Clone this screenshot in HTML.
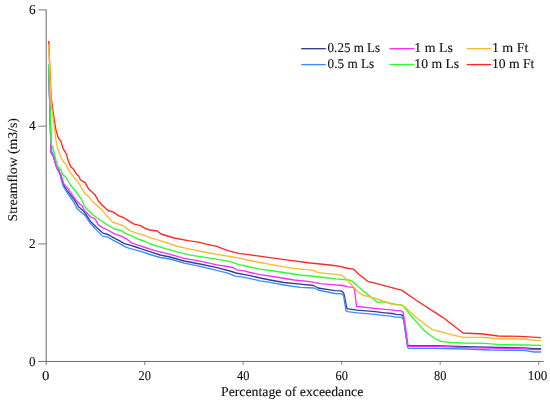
<!DOCTYPE html>
<html lang="en"><head><meta charset="utf-8"><title>Flow duration curves</title>
<style>html,body{margin:0;padding:0;background:#fff}body{width:550px;height:406px;overflow:hidden}svg{display:block}text{font-family:"Liberation Serif",serif;fill:#111;stroke:#111;stroke-width:0.1px;text-rendering:geometricPrecision}</style></head><body>
<svg width="550" height="406" viewBox="0 0 550 406">
<rect width="550" height="406" fill="#fff"/>
<g stroke="#6c6c6c" stroke-width="1" fill="none">
<line x1="46.2" y1="9.3" x2="46.2" y2="364.75"/>
<line x1="38.3" y1="361.45" x2="543.7" y2="361.45"/>
<line x1="38.3" y1="243.90" x2="46.2" y2="243.90" stroke-width="0.9"/>
<line x1="38.3" y1="126.20" x2="46.2" y2="126.20" stroke-width="0.9"/>
<line x1="38.3" y1="9.90" x2="46.2" y2="9.90" stroke-width="0.9"/>
<line x1="144.70" y1="361.45" x2="144.70" y2="364.95" stroke-width="0.8"/>
<line x1="243.20" y1="361.45" x2="243.20" y2="364.95" stroke-width="0.8"/>
<line x1="341.70" y1="361.45" x2="341.70" y2="364.95" stroke-width="0.8"/>
<line x1="440.20" y1="361.45" x2="440.20" y2="364.95" stroke-width="0.8"/>
<line x1="538.70" y1="361.45" x2="538.70" y2="364.95" stroke-width="0.8"/>
</g>
<g>
<polyline points="48.66,64.7 51.12,152 53.5,156.5 55.3,162.4 56.1,165.9 58.8,170.4 60.3,174 61.8,179.5 63.5,185 66.5,189.8 70.9,195.3 74.2,199.6 79.1,207.3 83.4,211.1 85,213.2 90.5,221.4 95.9,226.8 102.4,232.8 109,235 113.4,237.7 118.8,240.4 124.3,243.7 130.8,245.3 137.3,247.5 140.6,248.6 150,251.6 160,255 170,257 184,261 200,264 216,267.4 230,271 236,273 250,275.6 260,278 270,280 284,282.5 300,284.2 313.5,285.5 318,288 330,289.8 335,290.6 340.9,290.9 343.5,292.8 344.3,295.4 346.9,308.7 357.2,310.2 375,311.7 385,312.8 392.4,313.5 396.1,314.4 400.9,314.6 402.8,315.7 403.8,320 407.5,345.4 435,345.6 465,346.7 500,347.5 524,347.9 534,348.7 541,348.7" fill="none" stroke="#2f3f94" stroke-width="1.35" stroke-linejoin="round" stroke-linecap="butt"/>
<polyline points="48.66,64.7 51.12,150 52.9,154.3 54.5,160 56.5,167 59.9,174 61.4,180 63.3,186.5 66.5,191.5 70.9,198 74.2,202.9 77.4,208.9 82.9,213.8 85,215.4 90.5,223.5 97,230.6 102.4,236.1 107.9,237.2 113.4,240.4 118.8,243.2 124.3,246.4 128.6,248.1 137,250.3 144,252.4 150,254.5 160,257.5 170,259 184,263.2 200,266.3 216.8,270.3 227.7,273.1 235.4,276.2 244.1,277.4 255,279.6 260,280.8 270,282.4 284,285 300,287.4 314,288 318,290 330,292.5 335,293.5 341.3,293.9 343.5,295.4 346.1,310.9 347.6,311.7 357.2,312.8 375,314.3 385,315.6 390.9,316.1 395.4,317.1 400.9,317.2 402.8,318.7 403.6,320 407.8,347.8 409,348.3 435,348.4 465,349 490,350 524,350.4 534,352 541,352" fill="none" stroke="#3c8cff" stroke-width="1.35" stroke-linejoin="round" stroke-linecap="butt"/>
<polyline points="48.66,64.7 51.05,153 53.3,156.5 55.1,162.4 55.9,165.9 58.1,171.1 60.7,173.7 62.1,178.5 63.6,183.7 64.4,184.4 67.6,188.2 73.1,196.4 77.4,201.8 82.4,206.2 84.5,210.5 90.5,217 95.4,219.2 98.1,224.6 101.9,227.4 106.8,229.5 114.4,233.9 121,236.1 126.4,238.8 130.8,242.6 137.3,244.8 145,247.5 150,249.2 158,251.4 170,254.3 184,258.3 200,261.1 216.8,264.8 227.7,266.5 233.2,267.6 236.4,269.8 244.1,270.9 250,272.5 260,274.6 276,277 294,280 310,281.6 320,283.6 335,284.9 342.4,285.5 348.3,286.9 352.8,287.3 354.4,288.9 356.5,306.5 375,308.3 385,309.4 391.7,309.8 395.4,310.6 400.6,310.7 403.1,312.4 404.4,320 408.1,346.2 435,346.4 465,347.6 500,348.4 524,348.8 534,349.6 541,349.6" fill="none" stroke="#ff2cff" stroke-width="1.35" stroke-linejoin="round" stroke-linecap="butt"/>
<polyline points="48.66,64.7 51.12,143.6 53.6,150.6 55.9,160.2 57.7,165.9 58.8,168.5 60.7,169.3 61.8,172.6 62.9,175.2 65.5,176.7 67.7,180.5 70.9,185.5 76.4,192.5 81.3,199.1 84.5,206.2 86.1,208.3 92.6,214.8 100.3,220.3 106.8,224.6 114.4,229 121,230.6 126.4,233.9 131.9,236.1 137.3,238.8 145,241.5 150,244 162,247.6 176,251.6 190,255.2 202,256.8 214,258.9 227.7,261.1 233.2,262.7 238.6,264.7 247.3,266.5 260,269.2 280,272 300,275 320,277 336,278.8 343.9,279.5 349.8,280.2 352.8,281.7 356.1,285 370.6,296.9 375,300.2 377,302.2 385,301.8 390.9,303.5 396.1,304.3 401.5,304.6 403.7,306.9 412.8,317.8 423.2,329.6 425,331.3 430,335.2 434.5,338.3 441,341.4 449,342.3 463,343 485,343.4 500,344.6 524,345 541,345.3" fill="none" stroke="#2cff2c" stroke-width="1.35" stroke-linejoin="round" stroke-linecap="butt"/>
<polyline points="48.66,41 51.12,97.5 53.59,115.6 56.05,130.6 58.4,138 61,141.3 62.9,148.4 66.2,153.6 68.2,160.5 70.7,166.7 73.6,169.3 76.6,174.1 78.8,176.3 80.5,180 85.1,182.7 88.4,188.7 94.9,194.7 98.2,200.7 102.2,205.3 107.9,210.5 113.4,212.1 118.8,215.9 123.2,217.5 128.6,220.8 134.1,224.1 140.6,225.7 145,228.4 150,230 157,231 161,234 174,238 188,240.6 200,242.4 206,244.2 216.8,246.4 227.7,250.7 238.6,253.3 250,254.9 270,257.6 290,260.4 310,263 330,265 340,266.4 346,268 353.5,269.2 359.4,274.7 367.6,281.3 375,283.2 402,290.4 415.8,300 438,314.4 445,319 463,333 483,334 498,336 520,336.4 541,337.7" fill="none" stroke="#ff2828" stroke-width="1.35" stroke-linejoin="round" stroke-linecap="butt"/>
<polyline points="48.7,44.8 51.12,104 53.59,122 56.05,141 57.7,149.1 59.9,155 62.5,160.5 66.2,165.2 68.8,170.4 73.3,176.7 76.6,180.5 79.6,184.4 84.5,193.1 88.4,196.4 92.7,201.8 96.5,205 101.4,209.4 105.7,214.8 112.3,221.9 116.6,223.5 123.2,225.7 129.7,230.6 137.3,233.4 145,235.5 150,237.6 160,240.6 176,246 190,249.2 204,252 216.8,254.3 230,256.5 238.6,257.8 247.3,260 260,262.5 270,264.4 290,267.8 313.5,270.4 318,272.6 330,273.9 335,274.4 341.9,275.3 344.6,277.6 349.8,282.8 355.7,289.5 360.9,294.2 362.4,295 375,298.3 380,300 385,302 390.9,303.9 396.1,304.8 402.4,305.2 405.4,307.4 416.5,317.8 432.1,329.6 440,331.6 451,334.6 463,337.4 485,337.5 500,339 524,339 534,340.4 541,340.4" fill="none" stroke="#ffb92e" stroke-width="1.35" stroke-linejoin="round" stroke-linecap="butt"/>
</g>
<g font-size="13.5">
<text x="35.5" y="365.6" text-anchor="end" textLength="6.6" lengthAdjust="spacingAndGlyphs">0</text>
<text x="35.5" y="248.1" text-anchor="end" textLength="6.6" lengthAdjust="spacingAndGlyphs">2</text>
<text x="35.5" y="130.4" text-anchor="end" textLength="6.6" lengthAdjust="spacingAndGlyphs">4</text>
<text x="35.5" y="14.1" text-anchor="end" textLength="6.6" lengthAdjust="spacingAndGlyphs">6</text>
<text x="42.1" y="380.1" textLength="7.4" lengthAdjust="spacingAndGlyphs">0</text>
<text x="138.5" y="380.1" textLength="12.4" lengthAdjust="spacingAndGlyphs">20</text>
<text x="237.0" y="380.1" textLength="12.4" lengthAdjust="spacingAndGlyphs">40</text>
<text x="335.5" y="380.1" textLength="12.4" lengthAdjust="spacingAndGlyphs">60</text>
<text x="434.0" y="380.1" textLength="12.4" lengthAdjust="spacingAndGlyphs">80</text>
<text x="527.8" y="380.1" textLength="19.6" lengthAdjust="spacingAndGlyphs">100</text>
</g>
<text x="221" y="396.4" font-size="13.5" textLength="142.3" lengthAdjust="spacingAndGlyphs">Percentage of exceedance</text>
<text transform="translate(16.6,221.4) rotate(-90)" font-size="13.5" textLength="103.2" lengthAdjust="spacingAndGlyphs">Streamflow (m3/s)</text>
<g font-size="13.5">
<line x1="301.2" y1="48.7" x2="325.8" y2="48.7" stroke="#2f3f94" stroke-width="1.35"/>
<text x="327.6" y="52.1" textLength="52.6" lengthAdjust="spacingAndGlyphs">0.25 m Ls</text>
<line x1="301.2" y1="64.6" x2="325.8" y2="64.6" stroke="#3c8cff" stroke-width="1.35"/>
<text x="327.6" y="68.0" textLength="46.6" lengthAdjust="spacingAndGlyphs">0.5 m Ls</text>
<line x1="389.6" y1="48.7" x2="414.2" y2="48.7" stroke="#ff2cff" stroke-width="1.35"/>
<text x="414.3" y="52.1" textLength="38.5" lengthAdjust="spacingAndGlyphs">1 m Ls</text>
<line x1="389.6" y1="64.6" x2="414.2" y2="64.6" stroke="#2cff2c" stroke-width="1.35"/>
<text x="414.3" y="68.0" textLength="44.9" lengthAdjust="spacingAndGlyphs">10 m Ls</text>
<line x1="466.7" y1="48.7" x2="491.3" y2="48.7" stroke="#ffb92e" stroke-width="1.35"/>
<text x="491.9" y="52.1" textLength="36.5" lengthAdjust="spacingAndGlyphs">1 m Ft</text>
<line x1="466.7" y1="64.6" x2="491.3" y2="64.6" stroke="#ff2828" stroke-width="1.35"/>
<text x="491.9" y="68.0" textLength="42.5" lengthAdjust="spacingAndGlyphs">10 m Ft</text>
</g>
</svg></body></html>
